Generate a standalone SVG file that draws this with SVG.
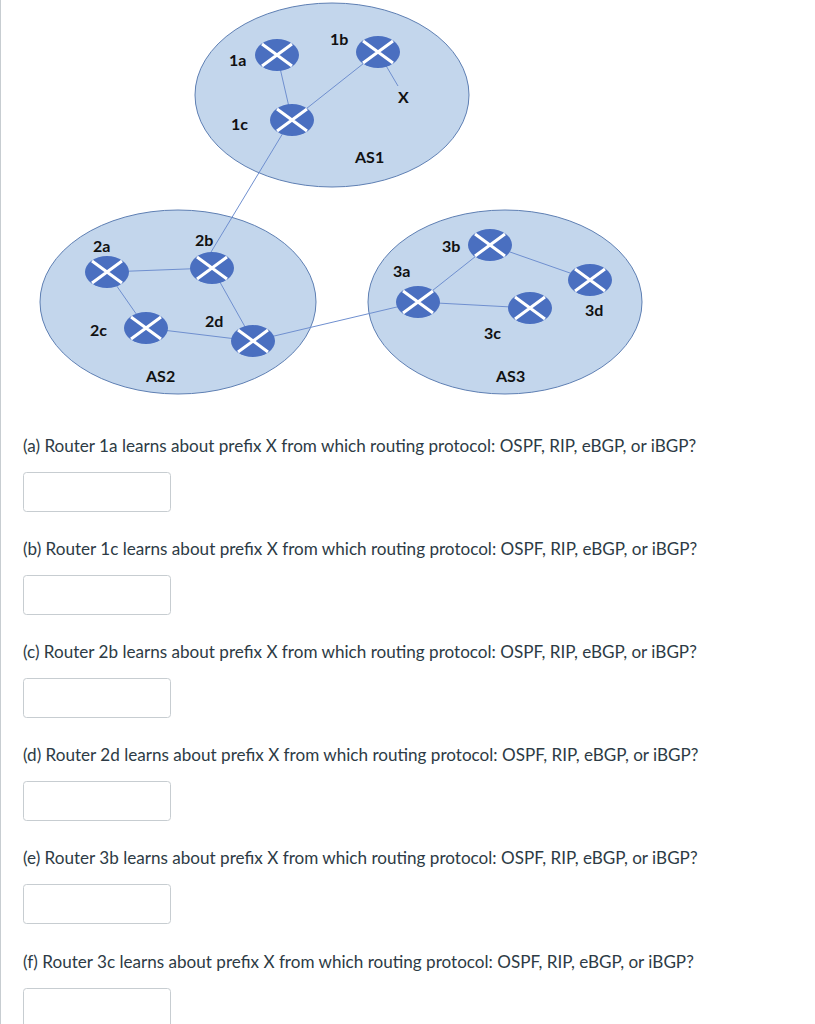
<svg xmlns="http://www.w3.org/2000/svg" width="815" height="1024" viewBox="0 0 815 1024">
<style>
.as{fill:#c3d6ec;stroke:#5e7fb3;stroke-width:1}
.r{fill:#4a6fc0}
.x{stroke:#fff;stroke-width:3}
.l{stroke:#6f8fcf;stroke-width:1;fill:none}
.t{font-family:Lato,"Liberation Sans",sans-serif;font-weight:bold;font-size:16px;fill:#111}
.q{font-family:Lato,"Liberation Sans",sans-serif;font-size:17.1px;fill:#2d3b45}
.b{fill:#fff;stroke:#c7cdd1;stroke-width:1}
</style>
<defs>
<g id="router"><ellipse class="r" rx="22" ry="16"/><path class="x" d="M-15,-11 L15,11 M-15,11 L15,-11"/></g>
</defs>
<rect width="815" height="1024" fill="#fff"/>
<line x1="0.5" y1="0" x2="0.5" y2="1024" stroke="#c7cdd1"/>
<g id="AS1"><ellipse class="as" cx="332" cy="95" rx="137" ry="92"/><text class="t" x="355" y="163">AS1</text></g>
<g id="AS2"><ellipse class="as" cx="178" cy="302" rx="138" ry="92"/><text class="t" x="146" y="382">AS2</text></g>
<g id="AS3"><ellipse class="as" cx="505" cy="302" rx="137" ry="92"/><text class="t" x="496" y="382">AS3</text></g>
<g id="connectors">
<line class="l" x1="277" y1="55" x2="292" y2="120"/>
<line class="l" x1="292" y1="120" x2="378" y2="52"/>
<line class="l" x1="378" y1="52" x2="398" y2="86"/>
<line class="l" x1="286" y1="128" x2="205" y2="262"/>
<line class="l" x1="107" y1="272" x2="212" y2="268"/>
<line class="l" x1="107" y1="272" x2="146" y2="328"/>
<line class="l" x1="146" y1="328" x2="253" y2="341"/>
<line class="l" x1="212" y1="268" x2="253" y2="341"/>
<line class="l" x1="253" y1="341" x2="418" y2="302"/>
<line class="l" x1="418" y1="302" x2="490" y2="245"/>
<line class="l" x1="418" y1="302" x2="530" y2="308"/>
<line class="l" x1="490" y1="245" x2="590" y2="280"/>
</g>
<g id="r1a"><use href="#router" x="277" y="55"/><text class="t" x="229" y="66">1a</text></g>
<g id="r1b"><use href="#router" x="378" y="52"/><text class="t" x="330" y="45">1b</text></g>
<g id="r1c"><use href="#router" x="292" y="120"/><text class="t" x="231" y="130">1c</text></g>
<g id="X"><text class="t" x="398" y="103">X</text></g>
<g id="r2a"><use href="#router" x="107" y="272"/><text class="t" x="93" y="252">2a</text></g>
<g id="r2b"><use href="#router" x="212" y="268"/><text class="t" x="195" y="246">2b</text></g>
<g id="r2c"><use href="#router" x="146" y="328"/><text class="t" x="90" y="336">2c</text></g>
<g id="r2d"><use href="#router" x="253" y="341"/><text class="t" x="205" y="327">2d</text></g>
<g id="r3a"><use href="#router" x="418" y="302"/><text class="t" x="393" y="277">3a</text></g>
<g id="r3b"><use href="#router" x="490" y="245"/><text class="t" x="442" y="252">3b</text></g>
<g id="r3c"><use href="#router" x="530" y="308"/><text class="t" x="484" y="339">3c</text></g>
<g id="r3d"><use href="#router" x="590" y="280"/><text class="t" x="585" y="316">3d</text></g>
<g id="questions">
<text class="q" x="23" y="452">(a) Router 1a learns about prefix X from which routing protocol: OSPF, RIP, eBGP, or iBGP?</text>
<rect class="b" x="23.5" y="472.5" width="147" height="39" rx="3"/>
<text class="q" x="23" y="555">(b) Router 1c learns about prefix X from which routing protocol: OSPF, RIP, eBGP, or iBGP?</text>
<rect class="b" x="23.5" y="575.5" width="147" height="39" rx="3"/>
<text class="q" x="23" y="658">(c) Router 2b learns about prefix X from which routing protocol: OSPF, RIP, eBGP, or iBGP?</text>
<rect class="b" x="23.5" y="678.5" width="147" height="39" rx="3"/>
<text class="q" x="23" y="761">(d) Router 2d learns about prefix X from which routing protocol: OSPF, RIP, eBGP, or iBGP?</text>
<rect class="b" x="23.5" y="781.5" width="147" height="39" rx="3"/>
<text class="q" x="23" y="864">(e) Router 3b learns about prefix X from which routing protocol: OSPF, RIP, eBGP, or iBGP?</text>
<rect class="b" x="23.5" y="884.5" width="147" height="39" rx="3"/>
<text class="q" x="23" y="968">(f) Router 3c learns about prefix X from which routing protocol: OSPF, RIP, eBGP, or iBGP?</text>
<rect class="b" x="23.5" y="988.5" width="147" height="39" rx="3"/>
</g>
</svg>
